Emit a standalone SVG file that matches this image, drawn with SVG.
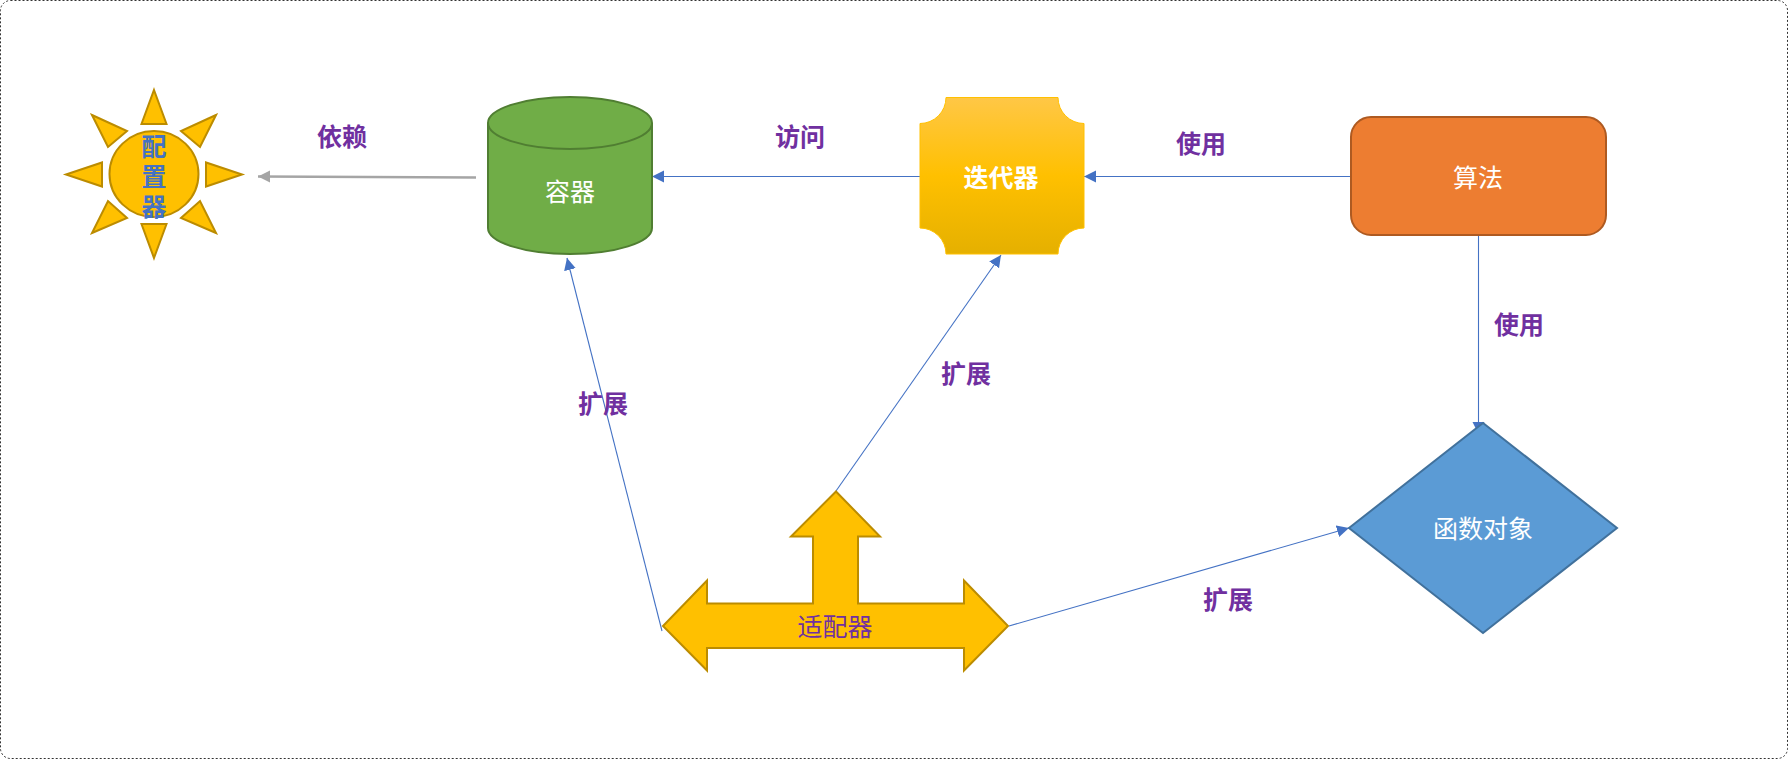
<svg xmlns="http://www.w3.org/2000/svg" width="1788" height="759" viewBox="0 0 1788 759">
<style>
text{font-family:"Noto Sans CJK SC","Noto Sans",sans-serif;text-anchor:middle;dominant-baseline:central}
.w{fill:#fff;font-size:25px}
.lb{fill:#7030A0;font-size:25px;font-weight:700}
.c{fill:none;stroke:#4472C4;stroke-width:1.1}
.y{fill:#FFC000;stroke:#BC8C00;stroke-width:2}
</style>
<defs>
<linearGradient id="g" x1="0" y1="0" x2="0" y2="1"><stop offset="0" stop-color="#FFC746"/><stop offset="0.5" stop-color="#FFC000"/><stop offset="1" stop-color="#E5B000"/></linearGradient>
<marker id="a" markerUnits="userSpaceOnUse" markerWidth="13" markerHeight="13" refX="12" refY="6" orient="auto"><path d="M0 0L12 6L0 12Z" fill="#4472C4"/></marker>
<marker id="b" markerUnits="userSpaceOnUse" markerWidth="13" markerHeight="13" refX="12" refY="6" orient="auto"><path d="M0 0L12 6L0 12Z" fill="#A5A5A5"/></marker>
</defs>
<rect id="frame" x="0.5" y="0.5" width="1787" height="758" rx="10" fill="#fff" stroke="#333" stroke-width="1" stroke-dasharray="2 2"/>
<g id="connectors">
<path class="c" d="M476 177.500L258 176.500" style="stroke:#A5A5A5;stroke-width:2.5" marker-end="url(#b)"/>
<path class="c" d="M920 176.500H652" marker-end="url(#a)"/>
<path class="c" d="M1351 176.500H1084" marker-end="url(#a)"/>
<path class="c" d="M1478.500 234V434" marker-end="url(#a)"/>
<path class="c" d="M836 491L1001 255" marker-end="url(#a)"/>
<path class="c" d="M662 631L567 258" marker-end="url(#a)"/>
<path class="c" d="M1009 626L1349 528" marker-end="url(#a)"/>
</g>
<g id="configurator">
<ellipse class="y" cx="154" cy="174" rx="44.500" ry="43"/>
<path class="y" d="M154 90L166.500 124H141.500Z M154 258L166.500 224H141.500Z M66 174.500L102 162.500V186.500Z M242 174.500L206 162.500V186.500Z M92 115L127 131L108 147Z M216 115L181 131L200 147Z M92 233L127 218L108 201Z M216 233L181 218L200 201Z"/>
<text x="154" y="178.500" style="fill:#4472C4;font-size:25px;font-weight:700;writing-mode:vertical-rl;letter-spacing:5px">配置器</text>
</g>
<g id="container">
<path d="M488 123A82 26 0 0 1 652 123V228A82 26 0 0 1 488 228Z" fill="#70AD47" stroke="#507E32" stroke-width="2"/>
<path d="M488 123A82 26 0 0 0 652 123" fill="none" stroke="#507E32" stroke-width="2"/>
<text class="w" x="570" y="190">容器</text>
</g>
<g id="iterator">
<path d="M946 97.500H1058A26 26 0 0 0 1084 123.500V228A26 26 0 0 0 1058 254H946A26 26 0 0 0 920 228V123.500A26 26 0 0 0 946 97.500Z" fill="url(#g)" stroke="#FFC000" stroke-width="1"/>
<text class="w" x="1001" y="176" style="font-weight:700">迭代器</text>
</g>
<g id="algorithm">
<rect x="1351" y="117" width="255" height="118" rx="20" fill="#ED7D31" stroke="#AE5A21" stroke-width="2"/>
<text class="w" x="1478" y="176">算法</text>
</g>
<g id="functor">
<path d="M1349 528L1483 423L1617 528L1483 633Z" fill="#5B9BD5" stroke="#41719C" stroke-width="2"/>
<text class="w" x="1483" y="527">函数对象</text>
</g>
<g id="adapter">
<path class="y" d="M836 491.500L880 536.500H858V603.500H964V580.500L1008 626L964 670.500V648H707V670.500L663 626L707 580.500V603.500H813V536.500H791Z"/>
<text x="835" y="625" style="fill:#7030A0;font-size:25px">适配器</text>
</g>
<g id="labels">
<text class="lb" x="342" y="135">依赖</text>
<text class="lb" x="800" y="135">访问</text>
<text class="lb" x="1201" y="142">使用</text>
<text class="lb" x="1519" y="323">使用</text>
<text class="lb" x="603" y="402">扩展</text>
<text class="lb" x="966" y="372">扩展</text>
<text class="lb" x="1228" y="598">扩展</text>
</g>
</svg>
